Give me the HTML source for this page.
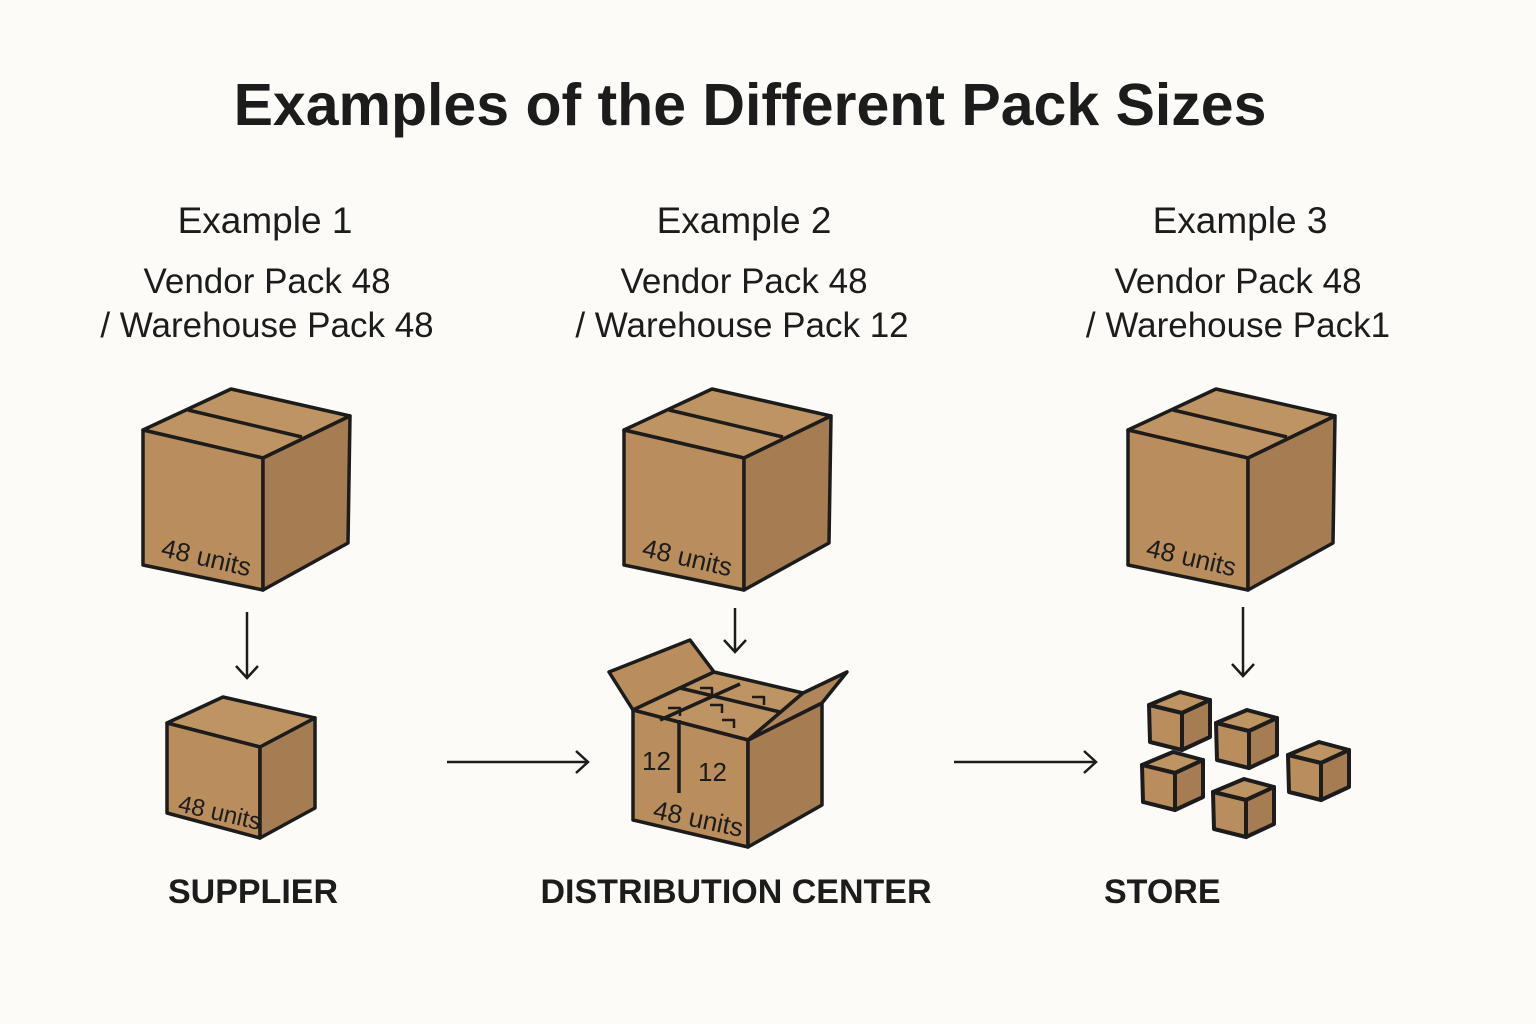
<!DOCTYPE html>
<html><head><meta charset="utf-8"><style>
html,body{margin:0;padding:0;background:#fcfbf7;}
svg{display:block;font-family:"Liberation Sans",sans-serif;}
</style></head><body>
<svg width="1536" height="1024" viewBox="0 0 1536 1024" xmlns="http://www.w3.org/2000/svg">
<rect width="1536" height="1024" fill="#fcfbf7"/>
<text x="750" y="125" text-anchor="middle" font-size="59" font-weight="bold" fill="#1c1c1c">Examples of the Different Pack Sizes</text>
<g font-size="37" fill="#1c1c1c" text-anchor="middle">
<text x="265" y="233">Example 1</text>
<text x="744" y="233">Example 2</text>
<text x="1240" y="233">Example 3</text>
</g>
<g font-size="35" fill="#1c1c1c" text-anchor="middle">
<text x="267" y="293">Vendor Pack 48</text>
<text x="267" y="337">/ Warehouse Pack 48</text>
<text x="744" y="293">Vendor Pack 48</text>
<text x="742" y="337">/ Warehouse Pack 12</text>
<text x="1238" y="293">Vendor Pack 48</text>
<text x="1238" y="337">/ Warehouse Pack1</text>
</g>
<defs>
<g id="bigbox" stroke="#1c1c1c" stroke-width="3.5" stroke-linejoin="round">
<polygon points="143,430 231,389 350,416 263,458" fill="#be9462"/>
<polygon points="143,430 263,458 263,590 143,565" fill="#b98d5c"/>
<polygon points="263,458 350,416 348,543 263,590" fill="#a67c52"/>
<line x1="188" y1="410" x2="302" y2="437"/>
<text x="0" y="0" transform="translate(160,556) rotate(13)" font-size="26" fill="#1c1c1c" stroke="none">48 units</text>
</g>
</defs>
<use href="#bigbox"/>
<use href="#bigbox" transform="translate(481,0)"/>
<use href="#bigbox" transform="translate(985,0)"/>
<g stroke="#1c1c1c" stroke-width="3.5" stroke-linejoin="round">
<polygon points="167,723 223,697 315,718 260,747" fill="#be9462"/>
<polygon points="167,723 260,747 260,838 167,813" fill="#b98d5c"/>
<polygon points="260,747 315,718 315,808 260,838" fill="#a67c52"/>
</g>
<text transform="translate(177,811) rotate(13)" font-size="24" fill="#1c1c1c">48 units</text>
<g stroke="#1c1c1c" stroke-width="3.5" stroke-linejoin="round">
<polygon points="609,672 690,640 714,672 633,710" fill="#b98d5c"/>
<polygon points="633,710 714,672 803,693 748,740" fill="#be9462"/>
<polygon points="633,710 748,740 748,847 633,820" fill="#b98d5c"/>
<polygon points="748,740 822,703 822,805 748,847" fill="#a67c52"/>
<polygon points="748,740 803,693 847,672 822,703" fill="#b0855a"/>
<line x1="680" y1="688" x2="780" y2="712"/>
<line x1="660" y1="720" x2="740" y2="684"/>
<line x1="679" y1="720" x2="679" y2="793"/>
<path d="M700 688 h12 v8 M710 705 h12 v8 M752 697 h12 v8 M668 708 h12 v8 M722 720 h12 v8" fill="none" stroke-width="2.5"/>
</g>
<g fill="#1c1c1c" font-size="26">
<text x="642" y="770">12</text>
<text x="698" y="781">12</text>
<text transform="translate(652,818) rotate(12)">48 units</text>
</g>
<defs>
<g id="cube" stroke="#1c1c1c" stroke-width="4" stroke-linejoin="round">
<polygon points="0,0 31,-13 61,-5 33,8" fill="#be9462"/>
<polygon points="0,0 33,8 33,45 1,37" fill="#b98d5c"/>
<polygon points="33,8 61,-5 61,32 33,45" fill="#a67c52"/>
</g>
</defs>
<use href="#cube" transform="translate(1149,705)"/>
<use href="#cube" transform="translate(1216,723)"/>
<use href="#cube" transform="translate(1142,765)"/>
<use href="#cube" transform="translate(1213,792)"/>
<use href="#cube" transform="translate(1288,755)"/>
<g stroke="#1c1c1c" stroke-width="2.5" fill="none">
<line x1="247" y1="612" x2="247" y2="678"/><path d="M236 666 L247 678 L258 666"/>
<line x1="735" y1="608" x2="735" y2="652"/><path d="M724 640 L735 652 L746 640"/>
<line x1="1243" y1="607" x2="1243" y2="676"/><path d="M1232 664 L1243 676 L1254 664"/>
<line x1="447" y1="762" x2="588" y2="762"/><path d="M576 751 L588 762 L576 773"/>
<line x1="954" y1="762" x2="1096" y2="762"/><path d="M1084 751 L1096 762 L1084 773"/>
</g>
<g font-size="34" font-weight="bold" fill="#1c1c1c">
<text x="253" y="903" text-anchor="middle">SUPPLIER</text>
<text x="736" y="903" text-anchor="middle">DISTRIBUTION CENTER</text>
<text x="1104" y="903">STORE</text>
</g>
</svg>
</body></html>
